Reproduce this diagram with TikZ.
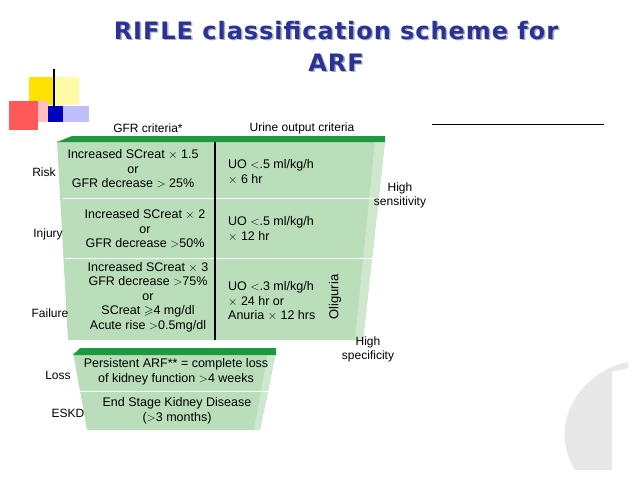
\documentclass[tikz,border=0pt]{standalone}
\usepackage{fontspec}
\setmainfont{Liberation Sans}
\newfontfamily\ttlfont[LetterSpace=4]{DejaVu Sans}
\usepackage{amssymb}
\begin{document}
\begin{tikzpicture}[x=1pt,y=-1pt,
  lab/.style={font=\fontsize{12}{14}\selectfont,align=center,inner sep=0pt},
  cell/.style={font=\fontsize{12.5}{14.5}\selectfont,align=center,inner sep=0pt},
  cellL/.style={font=\fontsize{12.5}{14.5}\selectfont,align=left,inner sep=0pt,anchor=west}]
\definecolor{lg}{HTML}{B9DEB9}
\definecolor{lgs}{HTML}{CDE8CD}
\definecolor{dg}{HTML}{1E9A3E}
\definecolor{ttl}{HTML}{28339A}
\useasboundingbox (0,0) rectangle (638,479);
\fill[white] (0,0) rectangle (638,479);
% decorative squares
\fill[yellow!85!orange] (29,77) rectangle (55,105);
\fill[yellow!35] (55,77) rectangle (79,105);
\fill[red!65] (9,101) rectangle (38,130);
\fill[red!25] (38,101) rectangle (48,122);
\fill[blue!75!black] (48,106) rectangle (63,122);
\fill[blue!25] (63,106) rectangle (89,122);
\draw[line width=1.2pt] (54,69) -- (54,107);
% title
\node[lab,text=gray!60,font=\ttlfont\bfseries\fontsize{24}{32}\selectfont] at (337.5,47.5) {RIFLE classification scheme for\\ARF};
\node (title) [lab,text=ttl,font=\ttlfont\bfseries\fontsize{24}{32}\selectfont] at (336,46) {RIFLE classification scheme for\\ARF};
\draw[line width=1pt] (432,124) -- (604,124);
% headers
\node (h1) [lab] at (148,128) {GFR criteria*};
\node (h2) [lab] at (302,128) {Urine output criteria};
% top trapezoid
\fill[lg] (57,141) -- (385,141) -- (363,340) -- (68,340) -- cycle;
\fill[lgs] (375,141) -- (385,141) -- (363,340) -- (355,340) -- cycle;
\fill[dg] (72,136) -- (385,136) -- (385,142) -- (57,142) -- cycle;
\draw[white,line width=1pt] (63,198) -- (378,198);
\draw[white,line width=1pt] (65,258) -- (372,258);
\draw[line width=2.2pt] (215,142) -- (215,340);
% top cells
\node (r1) [cell] at (133,169) {Increased SCreat $\times$ 1.5\\or\\GFR decrease $>$ 25\%};
\node (r2) [cellL] at (228,172) {UO $<$.5 ml/kg/h\\$\times$ 6 hr};
\node (i1) [cell] at (145,229) {Increased SCreat $\times$ 2\\or\\GFR decrease $>$50\%};
\node (i2) [cellL] at (228,229) {UO $<$.5 ml/kg/h\\$\times$ 12 hr};
\node (f1) [cell] at (148,297) {Increased SCreat $\times$ 3\\GFR decrease $>$75\%\\or\\SCreat $\geqslant$4 mg/dl\\Acute rise $>$0.5mg/dl};
\node (f2) [cellL] at (228,301) {UO $<$.3 ml/kg/h\\$\times$ 24 hr or\\Anuria $\times$ 12 hrs};
\node (olig) [lab,rotate=90,font=\fontsize{13}{15}\selectfont] at (335,297) {Oliguria};
% bottom trapezoid
\fill[lg] (73,352) -- (276,352) -- (260,430) -- (87,430) -- cycle;
\fill[lgs] (268,352) -- (276,352) -- (260,430) -- (254,430) -- cycle;
\fill[dg] (80,348) -- (276,348) -- (276,355) -- (73,355) -- cycle;
\draw[white,line width=1pt] (78,391) -- (268,391);
\node (l1) [cell] at (176,372) {Persistent ARF** = complete loss\\of kidney function $>$4 weeks};
\node (e1) [cell] at (177,411) {End Stage Kidney Disease\\($>$3 months)};
% row labels
\node (risk) [lab] at (44,172) {Risk};
\node (inj) [lab] at (48,234) {Injury};
\node (fail) [lab] at (50,313) {Failure};
\node (loss) [lab] at (58,375) {Loss};
\node (eskd) [lab] at (68,413) {ESKD};
\node (hsens) [lab] at (400,195) {High\\sensitivity};
\node (hspec) [lab] at (368,349) {High\\specificity};
% kidney image fragment
\fill[gray!18] (628,362) .. controls (585,370) and (545,420) .. (575,470) -- (612,470) -- (612,372) -- (628,368) -- cycle;
\end{tikzpicture}
\end{document}
